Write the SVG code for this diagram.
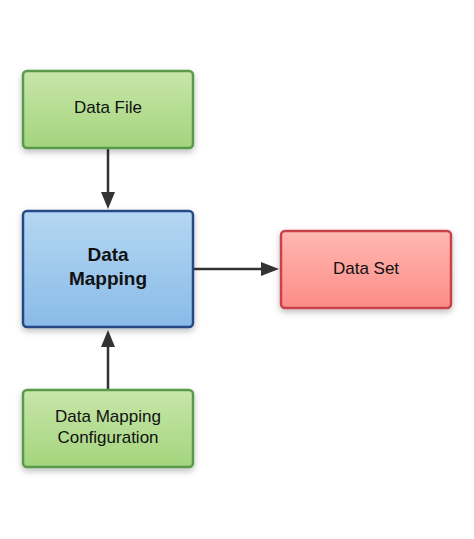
<svg xmlns="http://www.w3.org/2000/svg" width="474" height="539" viewBox="0 0 474 539">
<defs>
<linearGradient id="gGreen" x1="0" y1="0" x2="0" y2="1"><stop offset="0" stop-color="#c8e6aa"/><stop offset="1" stop-color="#a3d47c"/></linearGradient>
<linearGradient id="gBlue" x1="0" y1="0" x2="0" y2="1"><stop offset="0" stop-color="#b5d7f2"/><stop offset="1" stop-color="#89bbe8"/></linearGradient>
<linearGradient id="gRed" x1="0" y1="0" x2="0" y2="1"><stop offset="0" stop-color="#ffb8b2"/><stop offset="1" stop-color="#fd8c86"/></linearGradient>
<filter id="sh" x="-10%" y="-10%" width="120%" height="130%"><feDropShadow dx="0" dy="3" stdDeviation="3" flood-color="#000" flood-opacity="0.25"/></filter>
<marker id="arr" viewBox="0 0 10 10" refX="10" refY="5" markerWidth="6" markerHeight="6" orient="auto" markerUnits="userSpaceOnUse">
<path d="M0,0 L10,5 L0,10 z" fill="#333"/>
</marker>
</defs>
<style>
.lbl{font-family:"Liberation Sans",Arial,sans-serif;font-size:17px;fill:#111;text-anchor:middle}
.bold{font-weight:bold;font-size:19px}
.green{fill:url(#gGreen);stroke:#5a9a4c;stroke-width:2.5}
.blue{fill:url(#gBlue);stroke:#254a85;stroke-width:2.5}
.red{fill:url(#gRed);stroke:#c84249;stroke-width:2.5}
.conn{stroke:#333;stroke-width:2.5;fill:none}
</style>
<rect width="474" height="539" fill="#fff"/>
<g id="connectors">
<line class="conn" x1="108" y1="149" x2="108" y2="196"/>
<path d="M101,192 L108,209 L115,192 z" fill="#333"/>
<line class="conn" x1="194" y1="269" x2="265" y2="269"/>
<path d="M261,262 L279,269 L261,276 z" fill="#333"/>
<line class="conn" x1="108" y1="389" x2="108" y2="343"/>
<path d="M101,347 L108,330 L115,347 z" fill="#333"/>
</g>
<g id="data-file">
<rect class="green" x="23" y="71" width="170" height="77" rx="4" filter="url(#sh)"/>
<text class="lbl" x="108" y="113">Data File</text>
</g>
<g id="data-mapping">
<rect class="blue" x="23" y="211" width="170" height="116" rx="4" filter="url(#sh)"/>
<text class="lbl bold" x="108" y="261">Data</text>
<text class="lbl bold" x="108" y="285">Mapping</text>
</g>
<g id="data-set">
<rect class="red" x="281" y="231" width="170" height="77" rx="4" filter="url(#sh)"/>
<text class="lbl" x="366" y="274">Data Set</text>
</g>
<g id="data-mapping-configuration">
<rect class="green" x="23" y="390" width="170" height="77" rx="4" filter="url(#sh)"/>
<text class="lbl" x="108" y="422">Data Mapping</text>
<text class="lbl" x="108" y="443">Configuration</text>
</g>
</svg>
